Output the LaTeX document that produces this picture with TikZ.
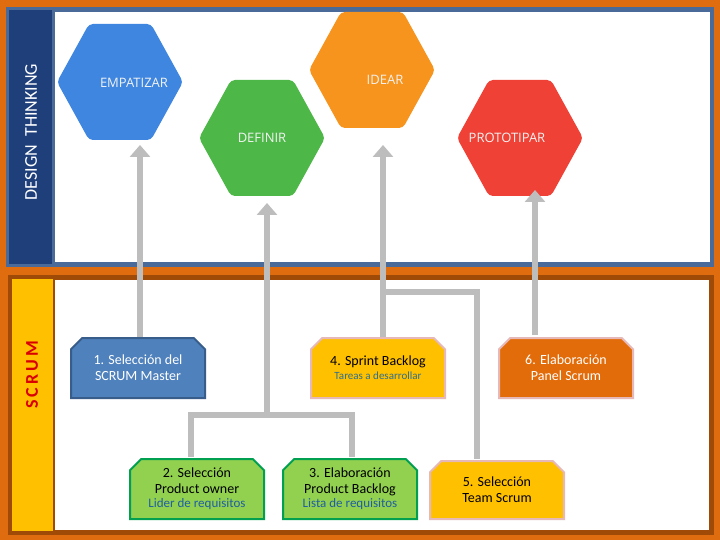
\documentclass[tikz,border=0pt]{standalone}
\usepackage{fontspec}
\setmainfont{Carlito}
\newfontfamily\hexfont{Open Sans}
\usetikzlibrary{shapes.misc,arrows.meta}
\definecolor{orng}{HTML}{E06C10}
\definecolor{navy}{HTML}{1F3F7A}
\definecolor{bbord}{HTML}{4A6A9A}
\definecolor{brwn}{HTML}{A04A08}
\definecolor{ylw}{HTML}{FFC000}
\definecolor{hblue}{HTML}{3F86E0}
\definecolor{hgreen}{HTML}{4DB848}
\definecolor{horange}{HTML}{F7941D}
\definecolor{hred}{HTML}{EF4136}
\definecolor{sblue}{HTML}{4F81BD}
\definecolor{sblued}{HTML}{385D8A}
\definecolor{sgreen}{HTML}{92D050}
\definecolor{sgreend}{HTML}{00A050}
\definecolor{sorng}{HTML}{E36C0A}
\definecolor{pinkb}{HTML}{E6B9B8}
\definecolor{conn}{HTML}{BDBDBD}
\definecolor{subblue}{HTML}{1F5FA0}
\definecolor{teal}{HTML}{2E6E8E}
\tikzset{
 stepbox/.style={chamfered rectangle, chamfered rectangle corners={north west,north east}, chamfered rectangle xsep=8pt, line width=2pt, minimum width=134pt, minimum height=60pt, align=center, font=\fontsize{14}{16}\selectfont, inner sep=2pt},
 hexlabel/.style={text=white!90!gray, font=\hexfont\fontsize{13}{15}\selectfont},
 link/.style={draw=conn, line width=6pt},
 uparrow/.style={link, -{Triangle[width=20pt,length=12pt]}},
}
\begin{document}
\begin{tikzpicture}[x=1pt,y=-1pt]
\useasboundingbox (0,0) rectangle (720,540);
\fill[orng] (0,0) rectangle (720,540);
% top panel
\fill[bbord] (6,7) rectangle (714,267);
\fill[navy] (9,10) rectangle (52,264);
\fill[white] (55,12) rectangle (710,262);
\node[rotate=90, text=white, font=\fontsize{18}{20}\selectfont] (dt) at (31,132) {DESIGN\ \ THINKING};
% bottom panel
\fill[brwn] (8,275) rectangle (714,535);
\fill[ylw] (12,279) rectangle (53,531);
\fill[white] (55,280) rectangle (709,530);
\node[rotate=90, text=red!85!black, font=\bfseries\fontsize{18}{20}\selectfont] (sc) at (32,375) {S\,C\,R\,U\,M};
% hexagons
\foreach \cx/\cy/\col in {120/82/hblue, 262/138/hgreen, 372/70/horange, 520/138/hred}{
  \fill[\col, rounded corners=4pt] (\cx+63,\cy) -- (\cx+31,\cy-58) -- (\cx-31,\cy-58) -- (\cx-63,\cy) -- (\cx-31,\cy+58) -- (\cx+31,\cy+58) -- cycle;
}
\node[hexlabel] (h1) at (134,83) {EMPATIZAR};
\node[hexlabel] (h2) at (262,138) {DEFINIR};
\node[hexlabel] (h3) at (385,80) {IDEAR};
\node[hexlabel] (h4) at (507,138) {PROTOTIPAR};
% boxes
\node[stepbox, fill=sblue, draw=sblued, text=white] (b1) at (138,368) {1. Selección del\\SCRUM Master};
\node[stepbox, fill=ylw, draw=pinkb] (b4) at (378,368) {4. Sprint Backlog\\[-2pt]{\color{teal}\fontsize{11}{13}\selectfont Tareas a desarrollar}};
\node[stepbox, fill=sorng, draw=pinkb, text=white] (b6) at (566,368) {6. Elaboración\\Panel Scrum};
\node[stepbox, fill=sgreen, draw=sgreend] (b2) at (197,489) {2. Selección\\Product owner\\[-2pt]{\color{subblue}\fontsize{13}{14}\selectfont Lider de requisitos}};
\node[stepbox, fill=sgreen, draw=sgreend] (b3) at (350,489) {3. Elaboración\\Product Backlog\\[-2pt]{\color{subblue}\fontsize{13}{14}\selectfont Lista de requisitos}};
\node[stepbox, fill=ylw, draw=pinkb, minimum height=58pt] (b5) at (497,490) {5. Selección\\Team Scrum};
% connectors
\coordinate (t1) at (140,145);
\coordinate (t2) at (267,203);
\coordinate (t3) at (383,145);
\coordinate (t4) at (535,190);
\coordinate (j2) at (267,415);
\coordinate (j3) at (383,292);
\draw[uparrow] (140,337) -- (t1);
\draw[uparrow] (j2) -- (t2);
\draw[uparrow] (383,337) -- (t3);
\draw[uparrow] (535,335) -- (t4);
\draw[link] (191,457) -- (191,415) -- (352,415) -- (352,457);
\draw[link] (j3) -- (477,292) -- (477,459);
\end{tikzpicture}
\end{document}
